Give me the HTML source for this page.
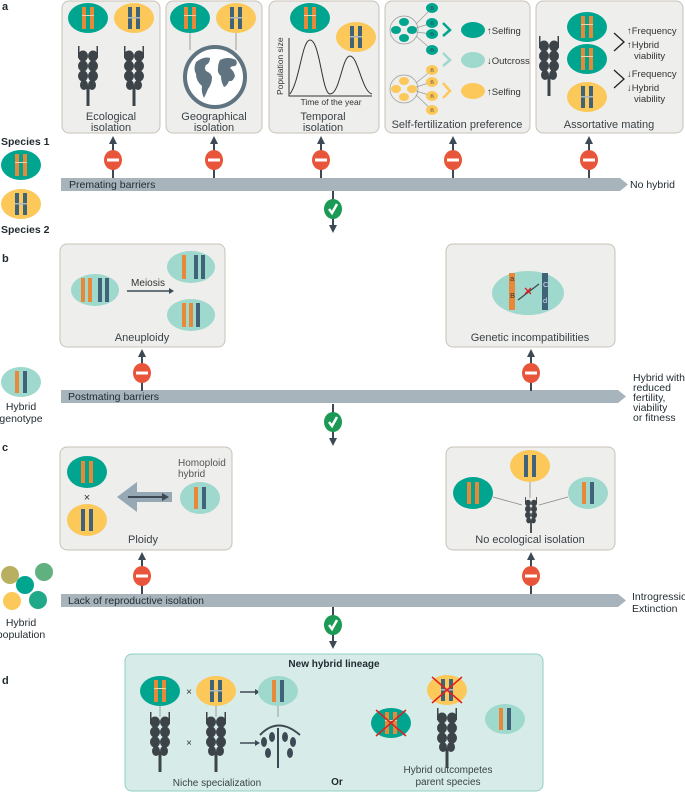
<!DOCTYPE html>
<html><head><meta charset="utf-8"><style>
html,body{margin:0;padding:0;background:#fff}
svg{display:block;font-family:"Liberation Sans",sans-serif}
.lbl{font-size:11px;fill:#3a4248;text-anchor:middle}
.bar{font-size:10.5px;fill:#1f2a30}
.side{font-size:10.5px;fill:#1f2a30}
.pl{font-size:11px;font-weight:bold;fill:#1f2a30}
</style></head><body>
<svg width="685" height="793" viewBox="0 0 685 793" xmlns="http://www.w3.org/2000/svg">
<defs>
<g id="e1"><ellipse rx="20" ry="15" fill="#00a58f"/><rect x="-6" y="-11" width="4" height="22" fill="#e8893a"/><rect x="2" y="-11" width="4" height="22" fill="#e8893a"/><rect x="-6" y="-3" width="12" height="1" fill="#f5d0a8"/></g>
<g id="e2"><ellipse rx="20" ry="15" fill="#fcc859"/><rect x="-6" y="-11" width="4" height="22" fill="#40637a"/><rect x="2" y="-11" width="4" height="22" fill="#40637a"/><rect x="-6" y="-1" width="12" height="1.5" fill="#a8b8c2"/></g>
<g id="eh"><ellipse rx="20" ry="15" fill="#9fd8cd"/><rect x="-6" y="-11" width="4" height="22" fill="#e8893a"/><rect x="2" y="-11" width="4" height="22" fill="#40637a"/></g>
<g id="wh" fill="#3d4449"><rect x="-1.5" y="10" width="3" height="20"/>
<ellipse cx="-5" cy="-20" rx="5" ry="5.5"/><ellipse cx="5" cy="-20" rx="5" ry="5.5"/>
<ellipse cx="-5" cy="-10" rx="5" ry="5.5"/><ellipse cx="5" cy="-10" rx="5" ry="5.5"/>
<ellipse cx="-5" cy="0" rx="5" ry="5.5"/><ellipse cx="5" cy="0" rx="5" ry="5.5"/>
<ellipse cx="-4" cy="9" rx="4" ry="5"/><ellipse cx="4" cy="9" rx="4" ry="5"/>
<rect x="-10" y="-30" width="1.5" height="12"/><rect x="8.5" y="-30" width="1.5" height="12"/></g>
<g id="no"><line x1="0" y1="-22" x2="0" y2="18" stroke="#3d4a55" stroke-width="2"/><path d="M-4,-16 L0,-24 L4,-16 Z" fill="#3d4a55"/><ellipse rx="9" ry="10" fill="#e8553a"/><rect x="-6" y="-1.5" width="12" height="3" fill="#fff"/></g>
<g id="ok"><line x1="0" y1="-18" x2="0" y2="20" stroke="#3d4a55" stroke-width="2"/><path d="M-4,16 L0,24 L4,16 Z" fill="#3d4a55"/><ellipse rx="9" ry="10" fill="#1a9a55"/><path d="M-4,0 L-1,4 L4,-5" stroke="#fff" stroke-width="2.5" fill="none"/></g>
</defs>

<!-- panel a -->
<text x="2" y="10" class="pl">a</text>
<g fill="#eeeeec" stroke="#c8c2b8">
<rect x="62" y="1" width="98" height="132" rx="7"/>
<rect x="166" y="1" width="96" height="132" rx="7"/>
<rect x="269" y="1" width="110" height="132" rx="7"/>
<rect x="385" y="1" width="145" height="132" rx="7"/>
<rect x="536" y="1" width="147" height="132" rx="7"/>
</g>
<use href="#e1" x="88" y="18"/><use href="#e2" x="134" y="18"/>
<use href="#wh" x="88" y="76"/><use href="#wh" x="134" y="76"/>
<text x="111" y="120" class="lbl">Ecological</text><text x="111" y="131" class="lbl">isolation</text>
<path d="M190,30 V50 M236,30 V50" stroke="#888" stroke-width="0.8"/>
<use href="#e1" x="190" y="18"/><use href="#e2" x="236" y="18"/>
<circle cx="215" cy="77" r="30" fill="#fff" stroke="#5f7380" stroke-width="4"/>
<path d="M196,62 q8,-6 14,-4 q0,5 -4,7 q-2,3 0,6 q5,2 6,6 q0,7 -4,12 q-2,5 -4,9 q-3,-6 -2,-12 q-6,-5 -6,-12 q-3,-5 0,-12z M220,60 q8,-4 16,0 q2,4 -1,6 q-4,0 -5,2 q4,3 5,8 q-2,6 -6,5 q-2,5 -5,6 q-3,-5 -3,-11 q-4,-3 -3,-8 q0,-4 2,-8z" fill="#5f7380"/>
<text x="214" y="120" class="lbl">Geographical</text><text x="214" y="131" class="lbl">isolation</text>
<use href="#e1" x="310" y="18"/><use href="#e2" x="356" y="37"/>
<path d="M289,38 V96 H372" stroke="#333" fill="none"/>
<path d="M290,94 C300,80 302,40 310,40 C320,40 322,94 330,94 C340,94 342,56 350,56 C358,56 362,92 372,94" stroke="#333" fill="none"/>
<text transform="translate(283,95) rotate(-90)" font-size="8.5" fill="#333">Population size</text>
<text x="331" y="105" font-size="8.5" fill="#333" text-anchor="middle">Time of the year</text>
<text x="323" y="120" class="lbl">Temporal</text><text x="323" y="131" class="lbl">isolation</text>
<!-- selfing -->
<g stroke="#999" stroke-width="0.7" fill="none">
<circle cx="404" cy="30" r="14"/><circle cx="404" cy="89" r="14"/>
<path d="M416,24 L432,8 M416,28 L432,23 M416,32 L432,34 M416,36 L432,50 M416,83 L432,70 M416,87 L432,82 M416,91 L432,96 M416,95 L432,110"/>
</g>
<g fill="#00a58f"><ellipse cx="404" cy="22" rx="5" ry="4"/><ellipse cx="404" cy="38" rx="5" ry="4"/><ellipse cx="396" cy="30" rx="5" ry="4"/><ellipse cx="412" cy="30" rx="5" ry="4"/>
<ellipse cx="432" cy="8" rx="6" ry="5"/><ellipse cx="432" cy="23" rx="6" ry="5"/><ellipse cx="432" cy="34" rx="6" ry="5"/><ellipse cx="432" cy="50" rx="6" ry="5"/><ellipse cx="473" cy="30" rx="12" ry="8"/></g>
<g fill="#fcc859"><ellipse cx="404" cy="81" rx="5" ry="4"/><ellipse cx="404" cy="97" rx="5" ry="4"/><ellipse cx="396" cy="89" rx="5" ry="4"/><ellipse cx="412" cy="89" rx="5" ry="4"/>
<ellipse cx="432" cy="70" rx="6" ry="5"/><ellipse cx="432" cy="82" rx="6" ry="5"/><ellipse cx="432" cy="96" rx="6" ry="5"/><ellipse cx="432" cy="110" rx="6" ry="5"/><ellipse cx="473" cy="91" rx="12" ry="8"/></g>
<ellipse cx="473" cy="60" rx="12" ry="8" fill="#9fd8cd"/>
<g fill="none" stroke-width="2.5"><path d="M443,23 L450,30 L443,36" stroke="#00a58f"/><path d="M443,53 L450,60 L443,66" stroke="#9fd8cd"/><path d="M443,83 L450,91 L443,98" stroke="#fcc859"/></g>
<g font-size="6" fill="#333" text-anchor="middle"><text x="432" y="10">n</text><text x="432" y="25">n</text><text x="432" y="36">n</text><text x="432" y="52">n</text><text x="432" y="72">n</text><text x="432" y="84">n</text><text x="432" y="98">n</text><text x="432" y="112">n</text></g>
<g font-size="9.5" fill="#333"><text x="487" y="34">↑Selfing</text><text x="487" y="64">↓Outcross</text><text x="487" y="95">↑Selfing</text></g>
<text x="457" y="128" class="lbl">Self-fertilization preference</text>
<!-- assortative -->
<use href="#wh" x="549" y="66"/>
<use href="#e1" x="587" y="27"/><use href="#e1" x="587" y="59"/><use href="#e2" x="587" y="97"/>
<path d="M614,33 L624,42 L614,51 M614,70 L624,79 L614,88" stroke="#222" stroke-width="1.3" fill="none"/>
<g font-size="9.5" fill="#333"><text x="627" y="34">↑Frequency</text><text x="627" y="48">↑Hybrid</text><text x="634" y="59">viability</text><text x="627" y="77">↓Frequency</text><text x="627" y="91">↓Hybrid</text><text x="634" y="102">viability</text></g>
<text x="609" y="128" class="lbl">Assortative mating</text>

<text x="1" y="145" class="side" font-weight="bold" font-size="10">Species 1</text>
<use href="#e1" x="21" y="165"/><use href="#e2" x="21" y="204"/>
<text x="1" y="233" class="side" font-weight="bold" font-size="10">Species 2</text>
<path d="M61,178 H620 L628,184.5 L620,191 H61 Z" fill="#a7b4bb"/>
<text x="69" y="188" class="bar">Premating barriers</text>
<text x="630" y="188" class="side">No hybrid</text>
<use href="#no" x="113" y="160"/><use href="#no" x="214" y="160"/><use href="#no" x="321" y="160"/><use href="#no" x="453" y="160"/><use href="#no" x="589" y="160"/>
<use href="#ok" x="333" y="209"/>

<!-- panel b -->
<text x="2" y="262" class="pl">b</text>
<rect x="60" y="244" width="165" height="103" rx="7" fill="#eeeeec" stroke="#c8c2b8"/>
<ellipse cx="95" cy="290" rx="24" ry="16" fill="#9fd8cd"/>
<g fill="#e8893a"><rect x="81" y="278" width="4" height="24"/><rect x="88" y="278" width="4" height="24"/></g>
<g fill="#40637a"><rect x="98" y="278" width="4" height="24"/><rect x="105" y="278" width="4" height="24"/></g>
<text x="148" y="286" font-size="10" fill="#333" text-anchor="middle">Meiosis</text>
<path d="M127,291 H170" stroke="#3d4a55" stroke-width="1.5"/><path d="M169,288 L174,291 L169,294Z" fill="#3d4a55"/>
<ellipse cx="191" cy="267" rx="24" ry="16" fill="#9fd8cd"/>
<rect x="182" y="255" width="4" height="24" fill="#e8893a"/><rect x="194" y="255" width="4" height="24" fill="#40637a"/><rect x="201" y="255" width="4" height="24" fill="#40637a"/>
<ellipse cx="191" cy="315" rx="24" ry="16" fill="#9fd8cd"/>
<rect x="182" y="303" width="4" height="24" fill="#e8893a"/><rect x="189" y="303" width="4" height="24" fill="#e8893a"/><rect x="196" y="303" width="4" height="24" fill="#40637a"/>
<text x="142" y="341" class="lbl" font-size="10">Aneuploidy</text>
<rect x="446" y="244" width="169" height="103" rx="7" fill="#eeeeec" stroke="#c8c2b8"/>
<ellipse cx="528" cy="293" rx="36" ry="22" fill="#9fd8cd"/>
<rect x="509" y="273" width="6" height="37" fill="#e8893a"/><rect x="542" y="273" width="6" height="37" fill="#40637a"/>
<path d="M518,300 L539,284" stroke="#3d4a55" stroke-width="1.3"/><path d="M525,288 l6,6 M531,288 l-6,6" stroke="#e02020" stroke-width="1.3"/>
<g font-size="7.5" fill="#333"><text x="510" y="281">a</text><text x="510" y="298">B</text><text x="543" y="287" fill="#dde">C</text><text x="543" y="303" fill="#dde">d</text></g>
<text x="530" y="341" class="lbl" font-size="10">Genetic incompatibilities</text>
<use href="#eh" x="21" y="382"/>
<text x="21" y="410" class="side" text-anchor="middle">Hybrid</text><text x="21" y="422" class="side" text-anchor="middle">genotype</text>
<path d="M61,390 H618 L626,396.5 L618,403 H61 Z" fill="#a7b4bb"/>
<text x="68" y="400" class="bar">Postmating barriers</text>
<g class="side" font-size="10"><text x="633" y="381">Hybrid with</text><text x="633" y="391">reduced</text><text x="633" y="401">fertility,</text><text x="633" y="411">viability</text><text x="633" y="421">or fitness</text></g>
<use href="#no" x="142" y="373"/><use href="#no" x="531" y="373"/>
<use href="#ok" x="333" y="422"/>

<!-- panel c -->
<text x="2" y="451" class="pl">c</text>
<rect x="60" y="447" width="172" height="103" rx="7" fill="#eeeeec" stroke="#c8c2b8"/>
<ellipse cx="87" cy="472" rx="20" ry="16" fill="#00a58f"/><rect x="81" y="461" width="4" height="22" fill="#e8893a"/><rect x="89" y="461" width="4" height="22" fill="#e8893a"/>
<text x="87" y="501" font-size="11" fill="#333" text-anchor="middle">×</text>
<ellipse cx="87" cy="520" rx="20" ry="16" fill="#fcc859"/><rect x="81" y="509" width="4" height="22" fill="#40637a"/><rect x="89" y="509" width="4" height="22" fill="#40637a"/>
<path d="M117,497 L137,482 V492 H172 V502 H137 V512 Z" fill="#95a8b3"/>
<path d="M128,497 H164" stroke="#3d4a55" stroke-width="2"/><path d="M162,493 L169,497 L162,501Z" fill="#3d4a55"/>
<text x="178" y="466" font-size="10" fill="#555">Homoploid</text><text x="178" y="477" font-size="10" fill="#555">hybrid</text>
<ellipse cx="200" cy="498" rx="20" ry="16" fill="#9fd8cd"/><rect x="194" y="487" width="4" height="22" fill="#e8893a"/><rect x="202" y="487" width="4" height="22" fill="#40637a"/>
<text x="143" y="543" class="lbl" font-size="10">Ploidy</text>
<rect x="446" y="447" width="169" height="103" rx="7" fill="#eeeeec" stroke="#c8c2b8"/>
<path d="M493,497 L522,505 M568,497 L539,505 M530,482 V498" stroke="#888" stroke-width="0.8"/>
<ellipse cx="473" cy="493" rx="20" ry="16" fill="#00a58f"/><rect x="467" y="482" width="4" height="22" fill="#e8893a"/><rect x="475" y="482" width="4" height="22" fill="#e8893a"/>
<ellipse cx="530" cy="466" rx="20" ry="16" fill="#fcc859"/><rect x="524" y="455" width="4" height="22" fill="#40637a"/><rect x="532" y="455" width="4" height="22" fill="#40637a"/>
<ellipse cx="588" cy="493" rx="20" ry="16" fill="#9fd8cd"/><rect x="582" y="482" width="4" height="22" fill="#e8893a"/><rect x="590" y="482" width="4" height="22" fill="#40637a"/>
<g transform="translate(531,515) scale(0.6)"><use href="#wh"/></g>
<text x="530" y="543" class="lbl" font-size="10">No ecological isolation</text>
<circle cx="10" cy="575" r="9" fill="#b8b060"/><circle cx="44" cy="572" r="9" fill="#60b080"/><circle cx="25" cy="585" r="9" fill="#00a58f"/><circle cx="12" cy="601" r="9" fill="#fcc859"/><circle cx="38" cy="600" r="9" fill="#20a888"/>
<text x="21" y="626" class="side" text-anchor="middle">Hybrid</text><text x="21" y="638" class="side" text-anchor="middle">population</text>
<path d="M61,594 H618 L626,600.5 L618,607 H61 Z" fill="#a7b4bb"/>
<text x="68" y="604" class="bar">Lack of reproductive isolation</text>
<text x="632" y="600" class="side" font-size="9.5">Introgressions</text><text x="632" y="612" class="side" font-size="9.5">Extinction</text>
<use href="#no" x="142" y="576"/><use href="#no" x="531" y="576"/>
<use href="#ok" x="333" y="625"/>

<!-- panel d -->
<text x="2" y="684" class="pl">d</text>
<rect x="125" y="654" width="418" height="137" rx="7" fill="#d7ece8" stroke="#8fd0c4"/>
<text x="334" y="667" font-size="10" font-weight="bold" fill="#1f2a30" text-anchor="middle">New hybrid lineage</text>
<path d="M160,705 V717 M216,705 V717 M278,705 V717" stroke="#888" stroke-width="0.8"/>
<use href="#e1" x="160" y="691"/><text x="189" y="695" font-size="10" fill="#333" text-anchor="middle">×</text>
<use href="#e2" x="216" y="691"/><path d="M240,692 H256" stroke="#3d4a55" stroke-width="1.5"/><path d="M255,689 L260,692 L255,695Z" fill="#3d4a55"/>
<use href="#eh" x="278" y="691"/>
<use href="#wh" x="160" y="742"/><text x="189" y="746" font-size="10" fill="#333" text-anchor="middle">×</text>
<use href="#wh" x="216" y="742"/><path d="M240,743 H256" stroke="#3d4a55" stroke-width="1.5"/><path d="M255,740 L260,743 L255,746Z" fill="#3d4a55"/>
<g fill="#3d4a55"><rect x="277" y="728" width="2" height="40"/><path d="M260,735 Q278,716 300,735" stroke="#3d4a55" stroke-width="2" fill="none"/>
<ellipse cx="264" cy="742" rx="3" ry="5"/><ellipse cx="272" cy="737" rx="3" ry="5"/><ellipse cx="285" cy="737" rx="3" ry="5"/><ellipse cx="293" cy="742" rx="3" ry="5"/><ellipse cx="268" cy="753" rx="3" ry="5"/><ellipse cx="290" cy="753" rx="3" ry="5"/></g>
<text x="217" y="786" font-size="10" fill="#3a4248" text-anchor="middle">Niche specialization</text>
<text x="337" y="785" font-size="10" font-weight="bold" fill="#1f2a30" text-anchor="middle">Or</text>
<use href="#e1" x="391" y="723"/><path d="M376,710 L406,736 M406,710 L376,736" stroke="#e02020" stroke-width="1.5"/>
<use href="#e2" x="447" y="690"/><path d="M432,677 L462,703 M462,677 L432,703" stroke="#e02020" stroke-width="1.5"/>
<use href="#wh" x="447" y="738"/>
<use href="#eh" x="505" y="719"/>
<text x="448" y="773" font-size="10" fill="#3a4248" text-anchor="middle">Hybrid outcompetes</text>
<text x="448" y="785" font-size="10" fill="#3a4248" text-anchor="middle">parent species</text>
</svg>
</body></html>
